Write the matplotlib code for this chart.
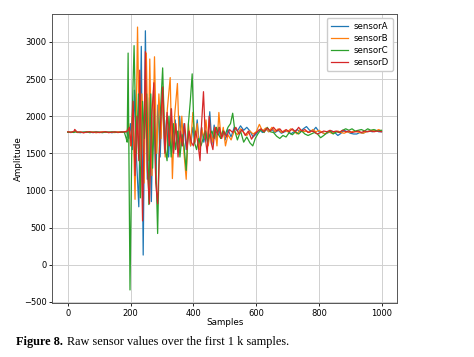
import matplotlib
matplotlib.use("Agg")
import matplotlib.pyplot as plt

# baseline before the burst (shared sample positions)
base_x = [0, 10, 20, 22, 30, 40, 50, 60, 70, 80, 90, 100, 110, 120, 130, 140, 150, 160, 170, 180]
base_a = [1785, 1780, 1790, 1795, 1782, 1778, 1786, 1781, 1788, 1779, 1784, 1787, 1780, 1783, 1789, 1777, 1785, 1782, 1788, 1780]
base_b = [1788, 1784, 1792, 1800, 1780, 1786, 1779, 1790, 1783, 1788, 1776, 1785, 1790, 1781, 1786, 1784, 1779, 1791, 1783, 1786]
base_c = [1782, 1786, 1780, 1790, 1787, 1781, 1784, 1789, 1778, 1785, 1788, 1782, 1779, 1786, 1781, 1790, 1784, 1780, 1787, 1784]
base_d = [1790, 1781, 1798, 1822, 1784, 1788, 1776, 1785, 1791, 1780, 1787, 1779, 1786, 1792, 1778, 1784, 1790, 1781, 1786, 1790]

# sensorA
xa = [188, 194, 200, 206, 212, 219, 226, 234, 240, 247, 253, 260, 266, 273, 280, 287, 294, 301, 308, 314,
      321, 328, 335, 342, 349, 356, 363, 370, 377, 384, 391, 398, 405, 412, 419, 426, 433, 440, 446, 452,
      459, 466, 473, 480, 487, 494, 501, 510, 520, 530, 540, 550, 560, 570, 580, 590, 600, 610, 620, 630,
      640, 650, 660, 670, 680, 690, 700, 710, 720, 730, 740, 750, 760, 770, 780, 790, 800, 810, 820, 830,
      840, 850, 860, 870, 880, 890, 900, 910, 920, 930, 940, 950, 960, 970, 980, 990, 999]
ya = [1790, 1700, 1900, 1550, 2350, 1400, 780, 2940, 130, 3150, 1150, 2250, 850, 2350, 1150, 2150, 1450, 2300, 1550, 1950,
      1450, 2100, 1500, 1950, 1550, 2000, 1600, 1900, 1550, 1800, 1600, 1850, 1650, 1950, 1600, 1850, 1650, 1800, 1620, 2060,
      1620, 1880, 1680, 1850, 1700, 1800, 1680, 1820, 1720, 1850, 1800, 1870, 1810, 1850, 1800, 1720, 1760, 1820, 1780, 1830,
      1790, 1820, 1780, 1810, 1770, 1790, 1800, 1760, 1790, 1820, 1790, 1830, 1860, 1810, 1800, 1850, 1790, 1780, 1760, 1780,
      1800, 1780, 1740, 1770, 1810, 1790, 1770, 1760, 1760, 1780, 1770, 1790, 1800, 1790, 1810, 1790, 1790]

# sensorB
xb = [188, 194, 200, 207, 214, 222, 229, 236, 243, 250, 256, 261, 268, 276, 283, 290, 297, 303, 310, 317,
      326, 333, 340, 349, 356, 363, 370, 377, 384, 391, 398, 405, 412, 419, 426, 433, 440, 447, 454, 461,
      468, 475, 481, 488, 495, 502, 510, 520, 530, 540, 550, 560, 570, 580, 590, 600, 610, 620, 630, 640,
      650, 660, 670, 680, 690, 700, 710, 720, 730, 740, 750, 760, 770, 780, 790, 800, 810, 820, 830, 840,
      850, 860, 870, 880, 890, 900, 910, 920, 930, 940, 950, 960, 970, 980, 990, 999]
yb = [1790, 1900, 1600, 2150, 880, 3200, 1350, 2300, 1100, 2850, 1400, 2770, 1200, 2800, 1500, 2300, 1700, 2400, 1450, 2100,
      2520, 1160, 2000, 2440, 1500, 2000, 1500, 1150, 1900, 1600, 2050, 1650, 1900, 1550, 1850, 1700, 1950, 1600, 1800, 1650,
      1850, 1600, 2050, 1700, 1850, 1600, 1750, 1680, 1800, 1750, 1830, 1780, 1740, 1800, 1760, 1790, 1890, 1800, 1840, 1790,
      1850, 1790, 1830, 1780, 1810, 1790, 1830, 1800, 1760, 1820, 1790, 1800, 1780, 1820, 1790, 1810, 1780, 1760, 1790, 1770,
      1780, 1800, 1780, 1770, 1790, 1780, 1800, 1790, 1780, 1770, 1790, 1800, 1810, 1800, 1820, 1800]

# sensorC
xc = [186, 189, 192, 198, 205, 211, 218, 225, 231, 238, 244, 251, 258, 264, 270, 276, 286, 293, 302, 309,
      316, 322, 329, 336, 343, 350, 357, 364, 370, 377, 384, 390, 396, 403, 410, 417, 424, 431, 438, 445,
      452, 459, 466, 473, 480, 487, 494, 501, 510, 518, 525, 532, 540, 550, 560, 570, 580, 589, 597, 605,
      615, 625, 635, 645, 655, 665, 675, 685, 695, 705, 715, 725, 735, 745, 755, 765, 775, 785, 795, 805,
      815, 825, 835, 845, 855, 865, 875, 885, 895, 905, 915, 925, 935, 945, 955, 965, 975, 985, 999]
yc = [1700, 1650, 2850, -340, 2000, 2950, 1500, 2300, 900, 2200, 1700, 2300, 810, 2300, 1300, 2100, 420, 1900, 2650, 1600,
      1400, 2000, 1450, 1900, 1550, 1800, 1450, 1750, 1600, 1270, 1900, 2200, 2570, 1650, 1550, 1700, 1600, 1700, 1800, 1650,
      1750, 1800, 1700, 1850, 1750, 1700, 1800, 1750, 1850, 1900, 2040, 1800, 1680, 1800, 1650, 1720, 1640, 1600, 1700, 1760,
      1820, 1780, 1850, 1790, 1780, 1730, 1700, 1740, 1720, 1780, 1750, 1790, 1760, 1800, 1760, 1740, 1760, 1780, 1760, 1710,
      1740, 1780, 1800, 1760, 1790, 1780, 1810, 1830, 1810, 1830, 1800, 1810, 1820, 1800, 1830, 1810, 1820, 1800, 1810]

# sensorD
xd = [190, 196, 202, 208, 214, 220, 226, 229, 238, 247, 253, 260, 267, 274, 280, 286, 294, 302, 309, 316,
      323, 330, 337, 344, 351, 358, 365, 372, 379, 386, 393, 400, 407, 414, 421, 426, 432, 438, 444, 450,
      456, 462, 469, 476, 483, 490, 497, 505, 515, 525, 535, 545, 555, 565, 575, 585, 595, 605, 615, 625,
      635, 645, 655, 665, 675, 685, 695, 705, 715, 725, 735, 745, 755, 765, 775, 785, 795, 805, 815, 825,
      835, 845, 855, 865, 875, 885, 895, 905, 915, 925, 935, 945, 955, 965, 975, 985, 999]
yd = [1800, 1850, 1600, 2200, 1200, 2000, 1400, 2620, 590, 2870, 1300, 820, 2000, 2450, 1100, 820, 1800, 2390, 1500, 2050,
      1600, 2100, 1500, 1900, 1450, 1800, 1600, 1900, 1550, 1800, 1650, 1600, 1800, 1650, 1400, 1900, 2330, 1700, 1500, 2000,
      1650, 1550, 1850, 1750, 1850, 1700, 1800, 1720, 1820, 1780, 1850, 1760, 1820, 1740, 1800, 1690, 1760, 1800, 1830, 1790,
      1840, 1800, 1850, 1800, 1830, 1780, 1820, 1790, 1830, 1790, 1850, 1800, 1820, 1780, 1800, 1790, 1760, 1780, 1800, 1790,
      1810, 1790, 1800, 1780, 1810, 1790, 1800, 1780, 1790, 1800, 1780, 1800, 1790, 1800, 1790, 1800, 1790]

series = [("sensorA", base_a, xa, ya, "#1f77b4"),
          ("sensorB", base_b, xb, yb, "#ff7f0e"),
          ("sensorC", base_c, xc, yc, "#2ca02c"),
          ("sensorD", base_d, xd, yd, "#d62728")]

fig = plt.figure(figsize=(4.74, 3.57), dpi=100)
ax = fig.add_axes([0.11, 0.151, 0.728, 0.81])

for name, base, xs, ys, col in series:
    ax.plot(base_x + xs, base + ys, color=col, lw=0.9, label=name)

ax.grid(True, color="#d0d0d0", lw=0.7)
ax.set_axisbelow(True)
ax.tick_params(labelsize=6, length=2.5, width=0.6, pad=1.5)
for s in ax.spines.values():
    s.set_linewidth(0.7)
    s.set_color("#555555")
ax.set_xlabel("Samples", fontsize=6.3, labelpad=0.5)
ax.set_ylabel("Amplitude", fontsize=6.3, labelpad=1)
ax.legend(loc="upper right", fontsize=6.2, handlelength=2.0, labelspacing=0.35,
          borderpad=0.45, handletextpad=0.7, framealpha=1)

# caption, bold label then plain text
fig.canvas.draw()
cap1 = fig.text(0.034, 0.033, "Figure 8.", fontsize=8.8, fontweight="bold", family="Liberation Serif")
r = fig.canvas.get_renderer()
bb = cap1.get_window_extent(renderer=r)
fig.text(bb.x1 / fig.bbox.width + 0.009, 0.033, "Raw sensor values over the first 1 k samples.",
         fontsize=8.8, family="Liberation Serif")

fig.savefig("out.png", dpi=100)
